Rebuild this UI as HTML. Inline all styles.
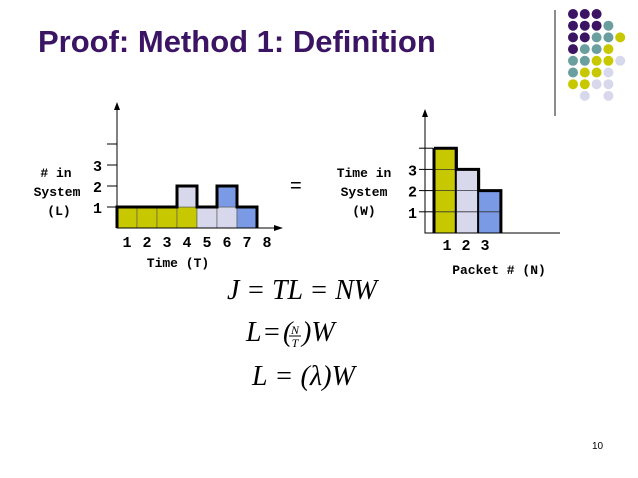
<!DOCTYPE html>
<html><head><meta charset="utf-8">
<style>
body{margin:0;background:#fff;}
svg{display:block;}
.mono{font-family:"Liberation Mono",monospace;font-weight:bold;}
.ser{font-family:"Liberation Serif",serif;font-style:italic;}
</style></head>
<body>
<svg id="s" width="638" height="478" viewBox="0 0 638 478" xmlns="http://www.w3.org/2000/svg">
<text x="38" y="52" font-family="Liberation Sans,sans-serif" font-weight="bold" font-size="31" fill="#3b1463">Proof: Method 1: Definition</text>
<line x1="555" y1="10" x2="555" y2="116" stroke="#666" stroke-width="1.5"/>
<g id="dots"></g>
<g id="c1"></g>
<g id="c2"></g>
<text x="290" y="192" font-family="Liberation Sans,sans-serif" font-size="20">=</text>
<g class="ser" font-size="28">
<text x="227" y="299" textLength="150">J = TL = NW</text>
<text x="246" y="341">L</text>
<text x="264" y="341" font-style="normal">=</text>
<text x="283" y="341">(</text>
<text x="295" y="334" font-size="12" text-anchor="middle">N</text>
<line x1="289" y1="336" x2="301" y2="336" stroke="#000" stroke-width="1"/>
<text x="295" y="347" font-size="12" text-anchor="middle">T</text>
<text x="302" y="341">)W</text>
<text x="252" y="385" textLength="103">L = (λ)W</text>
</g>
<text x="592" y="449" font-family="Liberation Sans,sans-serif" font-size="10">10</text>
</svg>
<script>
const arrivals=[0,3,5];
const departures=[4,6,7];
const colors=["#c8c800","#d8d8ec","#7a9ae6"];
const xTicks=["1","2","3","4","5","6","7","8"];
const yTicks1=["1","2","3"];
const packetLabels=["1","2","3"];
const NS="http://www.w3.org/2000/svg";
function mk(p,tag,a,txt){const e=document.createElementNS(NS,tag);for(const k in a)e.setAttribute(k,a[k]);if(txt!==undefined)e.textContent=txt;p.appendChild(e);return e;}
const dotRows=["PPP","PPPT","PPTTY","PTTY","TTYYL","TYYL","YYLL",".L.L"];
const dc={P:"#3b1463",T:"#6b9e9e",Y:"#c8c800",L:"#d8d8ec"};
const dg=document.getElementById('dots');
dotRows.forEach((r,i)=>{[...r].forEach((c,j)=>{if(c==='.')return;const e=mk(dg,'circle',{cx:573+j*11.8,cy:14+i*11.7,r:5,fill:dc[c]});

});});
const g1=document.getElementById('c1');
const x1=t=>117+t*20, y1=v=>228-v*21;
const T=Math.max(...departures);
const occ=[];
for(let t=0;t<T;t++){let lvl=0;let n=0;
 arrivals.forEach((a,i)=>{if(a<=t&&t<departures[i]){
  const r=mk(g1,'rect',{x:x1(t),y:y1(lvl+1),width:20,height:21,fill:colors[i],stroke:"#555","stroke-width":0.6});
  
  
  lvl++;n++;}});
 occ.push(n);}
let d="M"+x1(0)+","+y1(0);
occ.forEach((n,t)=>{d+=" L"+x1(t)+","+y1(n)+" L"+x1(t+1)+","+y1(n);});
d+=" L"+x1(T)+","+y1(0);
const pth=mk(g1,'path',{d:d,fill:"none",stroke:"#000","stroke-width":3});


let ax=mk(g1,'path',{d:`M117,104 L117,228 L280,228`,fill:"none",stroke:"#000","stroke-width":1});


mk(g1,'path',{d:"M114,110 L117,102 L120,110 Z M274,225 L283,228 L274,231 Z",fill:"#000"});
for(let v=1;v<=4;v++)mk(g1,'line',{x1:107,x2:117,y1:y1(v),y2:y1(v),stroke:"#000","stroke-width":1});
yTicks1.forEach((s,i)=>{const e=mk(g1,'text',{x:102,y:y1(i+1)+6,"font-size":15,"text-anchor":"end",class:"mono"},s);

});
xTicks.forEach((s,i)=>{const e=mk(g1,'text',{x:x1(i)+10,y:247,"font-size":15,"text-anchor":"middle",class:"mono"},s);

});
[["# in",56,177],["System",57,196],["(L)",59,215]].forEach(a=>{const e=mk(g1,'text',{x:a[1],y:a[2],"font-size":13,"text-anchor":"middle",class:"mono"},a[0]);

});
let tt=mk(g1,'text',{x:178,y:267,"font-size":13,"text-anchor":"middle",class:"mono"},"Time (T)");


const g2=document.getElementById('c2');
const x2=i=>434+i*22.3, y2=v=>233-v*21.2;
arrivals.forEach((a,i)=>{const w=departures[i]-a;
 const r=mk(g2,'rect',{x:x2(i),y:y2(w),width:22.3,height:y2(0)-y2(w),fill:colors[i],stroke:"#000","stroke-width":1});
 
 
 for(let v=1;v<w;v++)mk(g2,'line',{x1:x2(i),x2:x2(i)+22.3,y1:y2(v),y2:y2(v),stroke:"#333","stroke-width":0.8});
 mk(g2,'path',{d:`M${x2(i)},${y2(i?departures[i-1]-arrivals[i-1]:w)} L${x2(i)},${y2(w)} L${x2(i)+22.3},${y2(w)} L${x2(i)+22.3},${y2(0)}`,fill:"none",stroke:"#000","stroke-width":3});
});
mk(g2,'path',{d:`M${x2(0)},233 L${x2(0)},${y2(departures[0]-arrivals[0])}`,stroke:"#000","stroke-width":3});
ax=mk(g2,'path',{d:"M425,110 L425,233 L560,233",fill:"none",stroke:"#000","stroke-width":1});


mk(g2,'path',{d:"M422,117 L425,109 L428,117 Z",fill:"#000"});
for(let v=1;v<=4;v++)mk(g2,'line',{x1:419,x2:433,y1:y2(v),y2:y2(v),stroke:"#000","stroke-width":1});
yTicks1.forEach((s,i)=>{const e=mk(g2,'text',{x:417,y:y2(i+1)+6,"font-size":15,"text-anchor":"end",class:"mono"},s);

});
packetLabels.forEach((s,i)=>{const e=mk(g2,'text',{x:447+i*19,y:250,"font-size":15,"text-anchor":"middle",class:"mono"},s);

});
[["Time in",364,177],["System",364,196],["(W)",364,215]].forEach(a=>{const e=mk(g2,'text',{x:a[1],y:a[2],"font-size":13,"text-anchor":"middle",class:"mono"},a[0]);

});
tt=mk(g2,'text',{x:499,y:274,"font-size":13,"text-anchor":"middle",class:"mono"},"Packet # (N)");


</script>
</body></html>
